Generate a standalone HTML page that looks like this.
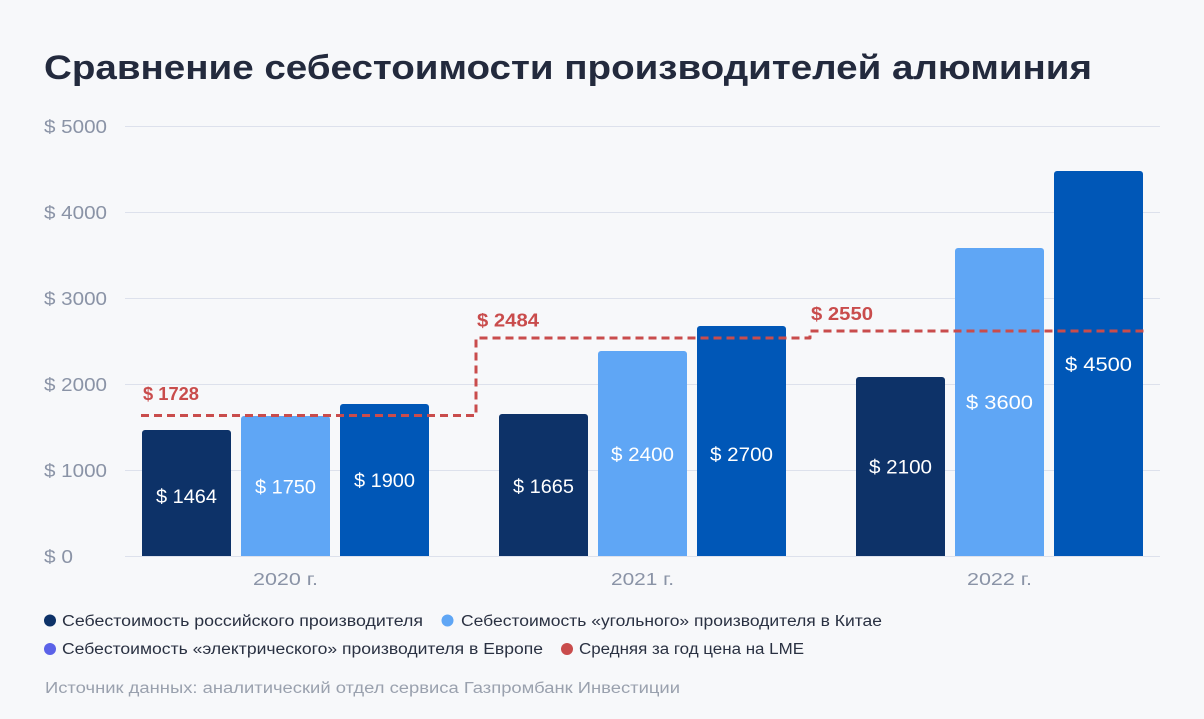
<!DOCTYPE html>
<html><head><meta charset="utf-8"><style>
html,body{margin:0;padding:0;background:#f7f8fa;}
svg{display:block;}
text{font-family:"Liberation Sans","DejaVu Sans",sans-serif;}
</style></head><body>
<svg width="1204" height="719" viewBox="0 0 1204 719" xmlns="http://www.w3.org/2000/svg">
<rect width="1204" height="719" fill="#f7f8fa"/>
<text x="44" y="79" font-size="34" font-weight="bold" fill="#232a3d" textLength="1048" lengthAdjust="spacingAndGlyphs">Сравнение себестоимости производителей алюминия</text>
<g stroke="#dde1ec" stroke-width="1">
<line x1="125" y1="126.5" x2="1160" y2="126.5"/>
<line x1="125" y1="212.5" x2="1160" y2="212.5"/>
<line x1="125" y1="298.5" x2="1160" y2="298.5"/>
<line x1="125" y1="384.5" x2="1160" y2="384.5"/>
<line x1="125" y1="470.5" x2="1160" y2="470.5"/>
<line x1="125" y1="556.5" x2="1160" y2="556.5"/>
</g>
<g font-size="18" fill="#8a93a6">
<text x="44" y="133" textLength="63" lengthAdjust="spacingAndGlyphs">$ 5000</text>
<text x="44" y="219" textLength="63" lengthAdjust="spacingAndGlyphs">$ 4000</text>
<text x="44" y="305" textLength="63" lengthAdjust="spacingAndGlyphs">$ 3000</text>
<text x="44" y="391" textLength="63" lengthAdjust="spacingAndGlyphs">$ 2000</text>
<text x="44" y="477" textLength="63" lengthAdjust="spacingAndGlyphs">$ 1000</text>
<text x="44" y="563" textLength="29" lengthAdjust="spacingAndGlyphs">$ 0</text>
</g>
<!-- bars -->
<g>
<path d="M142 556 V433 a3 3 0 0 1 3 -3 H228 a3 3 0 0 1 3 3 V556 Z" fill="#0d3268"/>
<path d="M241 556 V419 a3 3 0 0 1 3 -3 H327 a3 3 0 0 1 3 3 V556 Z" fill="#5fa6f5"/>
<path d="M340 556 V407 a3 3 0 0 1 3 -3 H426 a3 3 0 0 1 3 3 V556 Z" fill="#0057b7"/>
<path d="M499 556 V417 a3 3 0 0 1 3 -3 H585 a3 3 0 0 1 3 3 V556 Z" fill="#0d3268"/>
<path d="M598 556 V354 a3 3 0 0 1 3 -3 H684 a3 3 0 0 1 3 3 V556 Z" fill="#5fa6f5"/>
<path d="M697 556 V329 a3 3 0 0 1 3 -3 H783 a3 3 0 0 1 3 3 V556 Z" fill="#0057b7"/>
<path d="M856 556 V380 a3 3 0 0 1 3 -3 H942 a3 3 0 0 1 3 3 V556 Z" fill="#0d3268"/>
<path d="M955 556 V251 a3 3 0 0 1 3 -3 H1041 a3 3 0 0 1 3 3 V556 Z" fill="#5fa6f5"/>
<path d="M1054 556 V174 a3 3 0 0 1 3 -3 H1140 a3 3 0 0 1 3 3 V556 Z" fill="#0057b7"/>
</g>
<g font-size="19" fill="#ffffff" text-anchor="middle">
<text x="186.5" y="503" textLength="61" lengthAdjust="spacingAndGlyphs">$ 1464</text>
<text x="285.5" y="493.5" textLength="61" lengthAdjust="spacingAndGlyphs">$ 1750</text>
<text x="384.5" y="487" textLength="61" lengthAdjust="spacingAndGlyphs">$ 1900</text>
<text x="543.5" y="493" textLength="61" lengthAdjust="spacingAndGlyphs">$ 1665</text>
<text x="642.5" y="461" textLength="63" lengthAdjust="spacingAndGlyphs">$ 2400</text>
<text x="741.5" y="461" textLength="63" lengthAdjust="spacingAndGlyphs">$ 2700</text>
<text x="900.5" y="473.5" textLength="63" lengthAdjust="spacingAndGlyphs">$ 2100</text>
<text x="999.5" y="409" textLength="67" lengthAdjust="spacingAndGlyphs">$ 3600</text>
<text x="1098.5" y="371" textLength="67" lengthAdjust="spacingAndGlyphs">$ 4500</text>
</g>
<path d="M141 415.5 H476 V338 H810 V331 H1145" fill="none" stroke="#c94c4c" stroke-width="3" stroke-dasharray="8 5" stroke-linejoin="round"/>
<g font-size="18" font-weight="bold" fill="#c94c4c">
<text x="143" y="400" textLength="56" lengthAdjust="spacingAndGlyphs">$ 1728</text>
<text x="477" y="326.5" textLength="62" lengthAdjust="spacingAndGlyphs">$ 2484</text>
<text x="811" y="320" textLength="62" lengthAdjust="spacingAndGlyphs">$ 2550</text>
</g>
<g font-size="17.5" fill="#8a93a6" text-anchor="middle">
<text x="285.5" y="585" textLength="65" lengthAdjust="spacingAndGlyphs">2020 г.</text>
<text x="642.5" y="585" textLength="63" lengthAdjust="spacingAndGlyphs">2021 г.</text>
<text x="999.5" y="585" textLength="65" lengthAdjust="spacingAndGlyphs">2022 г.</text>
</g>
<g font-size="15.5" fill="#2a3142">
<circle cx="50" cy="620.5" r="6" fill="#0d3268"/>
<text x="62" y="626" textLength="361" lengthAdjust="spacingAndGlyphs">Себестоимость российского производителя</text>
<circle cx="447.5" cy="620.5" r="6" fill="#5fa6f5"/>
<text x="461" y="626" textLength="421" lengthAdjust="spacingAndGlyphs">Себестоимость «угольного» производителя в Китае</text>
<circle cx="50" cy="649" r="6" fill="#5b62e8"/>
<text x="62" y="654" textLength="481" lengthAdjust="spacingAndGlyphs">Себестоимость «электрического» производителя в Европе</text>
<circle cx="567" cy="649" r="6" fill="#c94c4c"/>
<text x="579" y="654" textLength="225" lengthAdjust="spacingAndGlyphs">Средняя за год цена на LME</text>
</g>
<text x="45" y="693" font-size="15.5" fill="#9aa1ae" textLength="635" lengthAdjust="spacingAndGlyphs">Источник данных: аналитический отдел сервиса Газпромбанк Инвестиции</text>
</svg>
</body></html>
